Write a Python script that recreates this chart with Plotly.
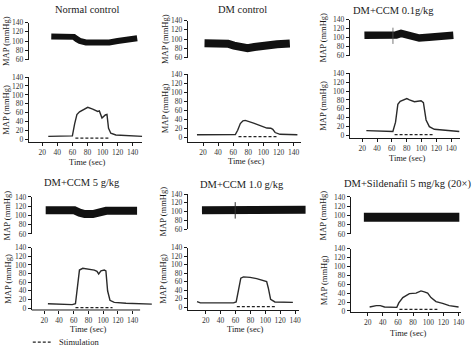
import plotly.graph_objects as go

W, H = 474, 353

# ---------------- data ----------------
titles = ["Normal control", "DM control", "DM+CCM 0.1g/kg",
          "DM+CCM 5 g/kg", "DM+CCM 1.0 g/kg", "DM+Sildenafil 5 mg/kg (20×)"]

x_ticks = [20, 40, 60, 80, 100, 120, 140]
top_ticks = [60, 80, 100, 120, 140]
bot_ticks = [0, 20, 40, 60, 80, 100, 120, 140]

# top traces (MAP band, centre values)
p1_top_t = [32, 50, 62, 66, 70, 78, 90, 100, 109, 120, 131, 146]
p1_top_v = [110, 110, 109, 104, 100, 97, 96, 96, 97, 100, 103, 106]
p2_top_t = [22, 44, 53, 61, 70, 79, 88, 101, 118, 135]
p2_top_v = [91, 91, 90, 86, 83, 80.5, 83, 87, 89, 90.5]
p3_top_t = [23, 57, 66, 72.5, 79, 88, 97, 110, 128, 143]
p3_top_v = [105, 105, 106, 109.5, 106, 101, 99, 101, 104, 105]
p4_top_t = [22, 61, 68, 75, 86, 92.5, 104, 146]
p4_top_v = [111, 111, 106, 103, 103, 107, 110, 110]
p5_top_t = [15, 59, 61, 100, 154]
p5_top_v = [103, 103, 104, 104, 104]
p6_top_t = [15, 50, 60, 75, 100, 120, 141]
p6_top_v = [96, 96, 97, 96, 94, 95, 96]

# bottom traces
p1_bot_t = [28, 45, 60, 63, 66, 69.5, 76, 80.4, 87, 93.6, 95.8, 99.3, 103.7, 105.9, 108, 111, 117.7, 135, 153]
p1_bot_v = [7, 8, 8, 35, 56, 62, 68, 72, 68, 63, 64, 48, 55, 56, 25, 14, 10, 8, 7]
p2_bot_t = [12, 43, 62.8, 65.9, 69.4, 72.9, 76, 87, 95.7, 104.5, 109.8, 112.4, 115.5, 122, 145]
p2_bot_v = [5, 5, 5.5, 15, 30, 36, 37, 31, 26, 20, 19.5, 17, 10, 6, 5]
p3_bot_t = [25.6, 45, 61.4, 65, 68.1, 71.3, 77.1, 80.2, 83.8, 90.5, 99.4, 102.6, 106.2, 110.6, 117.3, 133, 151]
p3_bot_v = [11, 10, 9, 30, 70, 77, 81, 83, 80, 76, 78, 74, 35, 20, 14, 11, 9]
p4_bot_t = [25, 58, 62.4, 65.6, 67.8, 72.3, 81.3, 88, 91.6, 93.9, 97, 101.5, 103.7, 106, 109.2, 115, 131, 166]
p4_bot_v = [10, 8, 10, 60, 88, 92, 90, 88, 85, 79, 86, 88, 86, 40, 18, 13, 11, 9]
p5_bot_t = [8.4, 12.9, 57.3, 60.9, 64, 67.1, 70.7, 79.6, 88.4, 95.1, 101.8, 104, 107.1, 112.9, 137]
p5_bot_v = [13, 10, 10, 12, 40, 68, 71, 70, 67, 64, 60, 45, 18, 12, 11]
p6_bot_t = [22.6, 31.4, 36.6, 42.3, 58.5, 61.1, 66.4, 75.1, 83.9, 90.4, 94.8, 99.2, 103.6, 110.2, 118.9, 127.7, 140]
p6_bot_v = [9, 12, 12, 9, 8, 18, 30, 39, 40, 45, 43, 40, 30, 21, 17, 12, 9]

# stimulation periods (start, end) and level
stim_t = [[64, 108], [67, 118], [63.7, 115], [62.4, 112.7], [61.8, 115], [62, 112]]
stim_v = [3, 1, 2, 1, 1, 3.5]

# short artefact spikes in the MAP traces (panel 3 and 5)
spike3_t = [61.5, 61.5]
spike3_v = [86, 122]
spike5_t = [59.6, 59.6]
spike5_v = [84, 121.5]

legend_label = "Stimulation"

tops = [(p1_top_t, p1_top_v), (p2_top_t, p2_top_v), (p3_top_t, p3_top_v),
        (p4_top_t, p4_top_v), (p5_top_t, p5_top_v), (p6_top_t, p6_top_v)]
bots = [(p1_bot_t, p1_bot_v), (p2_bot_t, p2_bot_v), (p3_bot_t, p3_bot_v),
        (p4_bot_t, p4_bot_v), (p5_bot_t, p5_bot_v), (p6_bot_t, p6_bot_v)]

# ---------------- layout geometry (pixels) ----------------
G = [
    dict(yx=29, xend=143, bend=143, tend=146, t20=42.5, t140=133.5, top140=19, top60=57,
         bot140=75, bot0=139, botax=142, band=6, ylx=6, tx=88, ty=6, timey=162, left=False),
    dict(yx=189, xend=303, bend=303, tend=303, t20=204.3, t140=295.5, top140=17, top60=55,
         bot140=72, bot0=136.5, botax=142, band=8, ylx=166, tx=244, ty=6, timey=161, left=False),
    dict(yx=352, xend=463, bend=463, tend=463, t20=364.5, t140=454, top140=16, top60=53,
         bot140=71, bot0=135, botax=138, band=7.5, ylx=325, tx=396, ty=7, timey=158, left=False),
    dict(yx=32, xend=141, bend=155, tend=145, t20=44.5, t140=133.5, top140=198, top60=236,
         bot140=250, bot0=312, botax=314, band=8, ylx=8, tx=83, ty=183, timey=334, left=False),
    dict(yx=189, xend=301, bend=301, tend=310, t20=207, t140=297, top140=195, top60=231,
         bot140=250, bot0=311, botax=314, band=8, ylx=164, tx=244, ty=185, timey=334, left=False),
    dict(yx=353, xend=464, bend=464, tend=466, t20=370, t140=461.5, top140=198, top60=236,
         bot140=251, bot0=315, botax=316, band=9, ylx=326, tx=344, ty=185, timey=338, left=True),
]

FONT = "Liberation Serif"
INK = "#1a1a1a"


def t_at(g, px):
    return 20 + (px - g["t20"]) * 120.0 / (g["t140"] - g["t20"])


def fx(px):
    return px / W


def fy(py):
    return 1 - py / H


fig = go.Figure()
layout = dict(width=W, height=H, margin=dict(l=0, r=0, t=0, b=0), autosize=False,
              paper_bgcolor="white", plot_bgcolor="white",
              font=dict(family=FONT, color=INK), showlegend=False)
annotations = []
shapes = []

axis_common = dict(showgrid=False, zeroline=False, ticks="outside", ticklen=3, tickwidth=1,
                   tickcolor=INK, linecolor=INK, linewidth=1, showline=True,
                   tickfont=dict(family=FONT, size=7.5, color="#333"))

for i, g in enumerate(G):
    kt = 2 * i + 1
    kb = 2 * i + 2
    # top axes
    layout[f"xaxis{kt}"] = dict(domain=[fx(g["yx"]), fx(g["tend"])],
                                range=[t_at(g, g["yx"]), t_at(g, g["tend"])],
                                visible=False, anchor=f"y{kt}")
    layout[f"yaxis{kt}"] = dict(axis_common, domain=[fy(g["top60"]), fy(g["top140"])],
                                range=[60, 140], tickvals=top_ticks, anchor=f"x{kt}")
    # bottom axes
    vb = 140 * (g["bot0"] - g["botax"]) / (g["bot0"] - g["bot140"])
    xb = dict(axis_common, domain=[fx(g["yx"]), fx(g["bend"])],
              range=[t_at(g, g["yx"]), t_at(g, g["bend"])], tickvals=x_ticks, anchor=f"y{kb}")
    if g["bend"] != g["xend"]:
        xb["showline"] = False
        shapes.append(dict(type="line", xref="paper", yref="paper",
                           x0=fx(g["yx"]), x1=fx(g["xend"]), y0=fy(g["botax"]), y1=fy(g["botax"]),
                           line=dict(color=INK, width=1)))
    layout[f"xaxis{kb}"] = xb
    layout[f"yaxis{kb}"] = dict(axis_common, domain=[fy(g["botax"]), fy(g["bot140"])],
                                range=[vb, 140], tickvals=bot_ticks, anchor=f"x{kb}")

    # traces
    tt, tv = tops[i]
    fig.add_trace(go.Scatter(x=tt, y=tv, mode="lines", xaxis=f"x{kt}", yaxis=f"y{kt}",
                             line=dict(color="#111", width=g["band"]), showlegend=False,
                             hoverinfo="skip"))
    bt, bv = bots[i]
    fig.add_trace(go.Scatter(x=bt, y=bv, mode="lines", xaxis=f"x{kb}", yaxis=f"y{kb}",
                             line=dict(color="#2a2a2a", width=1.4), showlegend=False,
                             hoverinfo="skip"))
    fig.add_trace(go.Scatter(x=stim_t[i], y=[stim_v[i], stim_v[i]], mode="lines",
                             xaxis=f"x{kb}", yaxis=f"y{kb}", name=legend_label,
                             line=dict(color="#222", width=1.3, dash="3px,2px"),
                             showlegend=False, hoverinfo="skip"))

    # texts
    annotations.append(dict(text=titles[i], x=fx(g["tx"]), y=fy(g["ty"]), xref="paper", yref="paper",
                            xanchor="left" if g["left"] else "center", yanchor="middle",
                            showarrow=False, font=dict(family=FONT, size=10.5, color=INK)))
    for cy in [(g["top140"] + g["top60"]) / 2, (g["bot140"] + g["botax"]) / 2]:
        annotations.append(dict(text="MAP (mmHg)", x=fx(g["ylx"]), y=fy(cy), xref="paper", yref="paper",
                                xanchor="center", yanchor="middle", textangle=-90, showarrow=False,
                                font=dict(family=FONT, size=8.5, color=INK)))
    annotations.append(dict(text="Time (sec)", x=fx((g["yx"] + g["xend"]) / 2 + 2), y=fy(g["timey"]),
                            xref="paper", yref="paper", xanchor="center", yanchor="middle",
                            showarrow=False, font=dict(family=FONT, size=8.5, color=INK)))

# spikes
fig.add_trace(go.Scatter(x=spike3_t, y=spike3_v, mode="lines", xaxis="x5", yaxis="y5",
                         line=dict(color="#555", width=0.8), showlegend=False, hoverinfo="skip"))
fig.add_trace(go.Scatter(x=spike5_t, y=spike5_v, mode="lines", xaxis="x9", yaxis="y9",
                         line=dict(color="#333", width=1), showlegend=False, hoverinfo="skip"))

# legend key (dashed sample + label)
shapes.append(dict(type="line", xref="paper", yref="paper", x0=fx(33), x1=fx(51),
                   y0=fy(347), y1=fy(347), line=dict(color="#222", width=1.3, dash="3px,2px")))
annotations.append(dict(text=legend_label, x=fx(57), y=fy(347), xref="paper", yref="paper",
                        xanchor="left", yanchor="middle", showarrow=False,
                        font=dict(family=FONT, size=8.5, color=INK)))

layout["annotations"] = annotations
layout["shapes"] = shapes
fig.update_layout(**layout)

fig.write_html("out.html")
